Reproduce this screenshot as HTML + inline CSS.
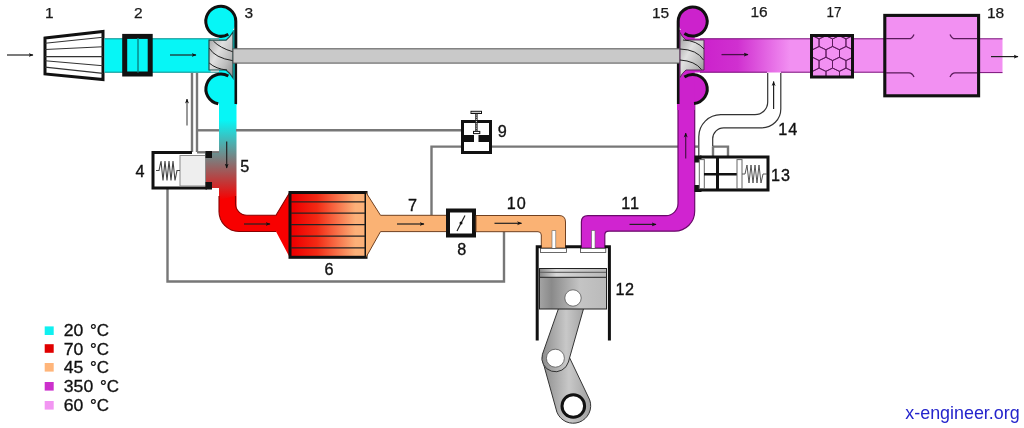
<!DOCTYPE html>
<html><head><meta charset="utf-8">
<style>
html,body{margin:0;padding:0;background:#fff;width:1024px;height:428px;overflow:hidden;}
svg{display:block;will-change:transform;}
text{font-family:"Liberation Sans",sans-serif;}
</style></head><body>
<svg width="1024" height="428" viewBox="0 0 1024 428">
<defs>
  <linearGradient id="gCR" x1="0" y1="120" x2="0" y2="200" gradientUnits="userSpaceOnUse">
    <stop offset="0" stop-color="#06f6f6"/><stop offset="1" stop-color="#f80000"/>
  </linearGradient>
  <linearGradient id="gDPF" x1="290" y1="0" x2="367" y2="0" gradientUnits="userSpaceOnUse">
    <stop offset="0.05" stop-color="#ee0000"/><stop offset="0.35" stop-color="#f22a14"/><stop offset="0.85" stop-color="#fcb078"/><stop offset="1" stop-color="#fcb078"/>
  </linearGradient>
  <linearGradient id="gP16" x1="704" y1="0" x2="800" y2="0" gradientUnits="userSpaceOnUse">
    <stop offset="0" stop-color="#cc22cc"/><stop offset="0.35" stop-color="#d030d0"/><stop offset="0.9" stop-color="#f290f2"/>
  </linearGradient>
  <linearGradient id="gWheel" x1="0" y1="0" x2="1" y2="1">
    <stop offset="0" stop-color="#9a9a9a"/><stop offset="0.4" stop-color="#e0e0e0"/><stop offset="0.7" stop-color="#bdbdbd"/><stop offset="1" stop-color="#8a8a8a"/>
  </linearGradient>
  <linearGradient id="gPiston" x1="0" y1="0" x2="1" y2="0">
    <stop offset="0" stop-color="#a4a4a4"/><stop offset="0.18" stop-color="#8a8a8a"/><stop offset="0.6" stop-color="#c4c4c4"/><stop offset="1" stop-color="#bababa"/>
  </linearGradient>
  <linearGradient id="gRing" x1="0" y1="0" x2="1" y2="0">
    <stop offset="0" stop-color="#8a8a8a"/><stop offset="0.25" stop-color="#d8d8d8"/><stop offset="1" stop-color="#b8b8b8"/>
  </linearGradient>
  <linearGradient id="gRod" x1="0" y1="0" x2="1" y2="0">
    <stop offset="0" stop-color="#8c8c8c"/><stop offset="0.55" stop-color="#c8c8c8"/><stop offset="1" stop-color="#a0a0a0"/>
  </linearGradient>
  <marker id="ah" viewBox="0 0 10 10" refX="9" refY="5" markerWidth="5" markerHeight="5" orient="auto" markerUnits="userSpaceOnUse">
    <path d="M0,1 L10,5 L0,9 L3,5 Z" fill="#111"/>
  </marker>
  <clipPath id="c17"><rect x="811.5" y="35.5" width="41" height="41"/></clipPath>
</defs>

<!-- ===== intake arrow & air filter 1 ===== -->
<line x1="7" y1="55" x2="33" y2="55" stroke="#222" stroke-width="1.2" marker-end="url(#ah)"/>
<path d="M45,38 L103,31.5 L103,79.5 L45,74 Z" fill="#fff" stroke="#111" stroke-width="3" stroke-linejoin="miter"/>
<g stroke="#333" stroke-width="1.1">
  <line x1="45" y1="43.2" x2="103" y2="37.3"/>
  <line x1="45" y1="49.5" x2="103" y2="46.7"/>
  <line x1="45" y1="56.6" x2="103" y2="56.6"/>
  <line x1="45" y1="60.8" x2="103" y2="65.7"/>
  <line x1="45" y1="67.1" x2="103" y2="73.4"/>
</g>

<!-- cyan intake pipe -->
<rect x="104.5" y="38.5" width="106" height="34" fill="#06f6f6"/>
<line x1="104.5" y1="38.8" x2="226" y2="38.8" stroke="#148c8c" stroke-width="1"/>
<line x1="104.5" y1="72.2" x2="226" y2="72.2" stroke="#148c8c" stroke-width="1"/>
<!-- box 2 -->
<rect x="124.7" y="36.4" width="25.5" height="37.6" fill="#06f6f6" stroke="#111" stroke-width="5"/>
<line x1="138" y1="38" x2="138" y2="72.5" stroke="#0a8a8a" stroke-width="1.5"/>
<line x1="170" y1="55" x2="196" y2="55" stroke="#222" stroke-width="1.2" marker-end="url(#ah)"/>

<!-- ===== compressor 3 ===== -->
<rect x="219" y="30" width="18" height="75" fill="#06f6f6"/>
<circle cx="220.8" cy="21.3" r="15" fill="#06f6f6"/>
<circle cx="220.8" cy="89" r="15" fill="#06f6f6"/>
<rect x="219" y="89" width="17.5" height="122" fill="url(#gCR)"/>
<path d="M235.8,48.7 V21.3 A15,15 0 1 0 228.3,34.3" fill="none" stroke="#111" stroke-width="3"/>
<path d="M228.3,76 A15,15 0 1 0 218.2,103.8" fill="none" stroke="#111" stroke-width="3"/>
<line x1="235.8" y1="62.5" x2="235.8" y2="104" stroke="#111" stroke-width="2.6"/>
<!-- wheel -->
<path d="M209,40.2 L226,40.2 Q230,37 233,32 L233,78 Q230,73 226,70 L209,70 Z" fill="url(#gWheel)" stroke="#1a4a4a" stroke-width="1.2"/>
<g fill="none" stroke="#222" stroke-width="1">
  <path d="M213.4,41.1 Q220,48 233,51.8"/>
  <path d="M209.2,48.1 Q215,58 233,60.7"/>
  <path d="M209.2,63 Q216,69 227,70"/>
</g>

<!-- ===== control lines ===== -->
<g stroke="#777" stroke-width="2.4" fill="none">
  <line x1="192" y1="73" x2="192" y2="152"/>
  <line x1="197" y1="73" x2="197" y2="152"/>
  <line x1="197" y1="130.3" x2="219" y2="130.3"/>
  <line x1="236" y1="130.3" x2="461" y2="130.3"/>
  <line x1="197" y1="152.3" x2="219" y2="152.3"/>
  <polyline points="431.5,215 431.5,146.6 461,146.6"/>
  <line x1="492" y1="146.6" x2="678" y2="146.6"/>
  <polyline points="713,146.6 728,146.6 728,156"/>
  <line x1="695" y1="146.6" x2="698" y2="146.6"/>
  <line x1="713" y1="146.6" x2="713" y2="156"/>
  <polyline points="167.5,188 167.5,281.5 504,281.5 504,231.5"/>
</g>
<line x1="187" y1="125.5" x2="187" y2="99" stroke="#555" stroke-width="1.2" marker-end="url(#ah)"/>

<!-- ===== wastegate actuator 4 ===== -->
<rect x="205" y="153" width="14.5" height="35" fill="url(#gCR)"/>
<polyline points="192,152.5 153,152.5 153,188 207,188" fill="none" stroke="#111" stroke-width="3"/>
<rect x="180" y="155.5" width="25.5" height="30.5" fill="#eeeeee" stroke="#8a8a8a" stroke-width="1"/>
<rect x="205.5" y="151" width="6.5" height="7" fill="#111"/>
<rect x="205.5" y="182" width="6.5" height="7.5" fill="#111"/>
<polyline points="156,170.5 159,170.5 161,161 163,180.5 165,161 167,180.5 169,161 171,180.5 173,161 175,180.5 177,170.5 180,170.5" fill="none" stroke="#444" stroke-width="1.1"/>
<line x1="226.7" y1="141.5" x2="226.7" y2="168" stroke="#222" stroke-width="1.2" marker-end="url(#ah)"/>

<!-- ===== pipe 5 bend & DPF 6 ===== -->
<path d="M219,200 V211 A20,20 0 0 0 239,231.5 H276 L290,258 V192 L276,215.2 H247 A11.5,11.5 0 0 1 235.5,203.7 V196 Z" fill="#f80000"/>
<path d="M219,196 V211 A20,20 0 0 0 239,231.5 H276 M290,192 L276,215.2 H247 A11.5,11.5 0 0 1 235.5,203.7 V196" fill="none" stroke="#800" stroke-width="1.1"/>
<rect x="290" y="192.5" width="76" height="64.8" fill="url(#gDPF)" stroke="#111" stroke-width="3"/>
<g stroke="#222" stroke-width="1.25">
  <line x1="291" y1="201.8" x2="365" y2="201.8"/>
  <line x1="291" y1="213.2" x2="365" y2="213.2"/>
  <line x1="291" y1="224.7" x2="365" y2="224.7"/>
  <line x1="291" y1="236.2" x2="365" y2="236.2"/>
  <line x1="291" y1="247.8" x2="365" y2="247.8"/>
</g>
<line x1="244" y1="224" x2="270" y2="224" stroke="#222" stroke-width="1.2" marker-end="url(#ah)"/>
<!-- outlet cone + pipe 7 -->
<path d="M366,192.5 L380.5,215.3 H446 V231.6 H380.5 L366,257.3 Z" fill="#fab274"/>
<path d="M366,192.5 L380.5,215.3 H446 M446,231.6 H380.5 L366,257.3" fill="none" stroke="#704020" stroke-width="1"/>
<line x1="397" y1="224" x2="424" y2="224" stroke="#222" stroke-width="1.2" marker-end="url(#ah)"/>

<!-- throttle 8 -->
<rect x="448" y="210.5" width="26" height="25" fill="#fff" stroke="#111" stroke-width="4"/>
<line x1="457" y1="231" x2="465" y2="215.5" stroke="#222" stroke-width="1.2"/>
<circle cx="461" cy="223" r="1.5" fill="#111"/>

<!-- pipe 10 -->
<path d="M476,215.5 H559 Q565.5,215.5 565.5,222 V248 H541.3 V235 Q541.3,231.7 538,231.7 H476 Z" fill="#fab274" stroke="#704020" stroke-width="1"/>
<line x1="494.5" y1="223.3" x2="521.5" y2="223.3" stroke="#222" stroke-width="1.2" marker-end="url(#ah)"/>

<!-- pipe 11 & purple vertical -->
<path d="M581.4,248 V222 Q581.4,215.6 588,215.6 H666 A12,12 0 0 0 678,203.6 V98 H694.7 V211 A20,20 0 0 1 674.7,231.2 H609 Q604.8,231.2 604.8,235 V248 Z" fill="#d024d0" stroke="#6a0a6a" stroke-width="1.2"/>
<line x1="629.5" y1="224.4" x2="656" y2="224.4" stroke="#222" stroke-width="1.2" marker-end="url(#ah)"/>

<!-- ===== engine 12 ===== -->
<path d="M538.5,248.3 H608 V340.5 H538.5 Z" fill="#fff"/>
<path d="M537.2,340.5 V246.8 H541.5 M565.3,246.8 H581.4 M604.8,246.8 H609.4 V340.5" fill="none" stroke="#111" stroke-width="3"/>
<rect x="552" y="230.7" width="3.8" height="18" fill="#fff" stroke="#666" stroke-width="0.6"/>
<rect x="591.6" y="230.7" width="3.4" height="18" fill="#fff" stroke="#666" stroke-width="0.6"/>
<rect x="540.5" y="248.4" width="26" height="4" fill="#fff" stroke="#444" stroke-width="0.8"/>
<rect x="580.5" y="248.4" width="25.3" height="4" fill="#fff" stroke="#444" stroke-width="0.8"/>
<!-- crank web -->
<path d="M567.6,353.6 L589.7,399.9 A17.5,17.5 0 0 1 556.9,412.1 L543.2,362.8 A13,13 0 0 1 567.6,353.6 Z" fill="url(#gRod)" stroke="#333" stroke-width="1"/>
<circle cx="573.3" cy="406" r="11.3" fill="#fff" stroke="#111" stroke-width="3"/>
<!-- connecting rod -->
<path d="M561.5,300 L586,300 L568.4,362 A13.5,13.5 0 0 1 542.4,354.4 Z" fill="url(#gRod)" stroke="#333" stroke-width="1"/>
<circle cx="555.4" cy="358.2" r="9" fill="#fff" stroke="#555" stroke-width="0.8"/>
<!-- piston -->
<rect x="539.5" y="268.5" width="67" height="40.5" fill="url(#gPiston)" stroke="#222" stroke-width="1"/>
<rect x="539.5" y="268.5" width="67" height="8.8" fill="url(#gRing)" stroke="#222" stroke-width="1"/>
<line x1="540" y1="272.3" x2="606" y2="272.3" stroke="#6a6a6a" stroke-width="1.3"/>
<circle cx="573" cy="298" r="8.2" fill="#fff" stroke="#555" stroke-width="0.8"/>

<!-- ===== valve 9 ===== -->
<rect x="462.5" y="121.5" width="28" height="31" fill="#fff" stroke="#111" stroke-width="3"/>
<rect x="461" y="135" width="13" height="7" fill="#111"/>
<rect x="478.5" y="135" width="13.5" height="7" fill="#111"/>
<rect x="471" y="111.3" width="10.5" height="2.2" fill="#fff" stroke="#111" stroke-width="1"/>
<line x1="472.5" y1="112.4" x2="480" y2="112.4" stroke="#666" stroke-width="0.8" stroke-dasharray="1,1"/>
<rect x="475.2" y="113.5" width="2.4" height="17.6" fill="#222"/>
<line x1="476.4" y1="114.5" x2="476.4" y2="130.5" stroke="#fff" stroke-width="0.9" stroke-dasharray="1,1.2"/>
<rect x="473.5" y="131.4" width="6.3" height="2.2" fill="#fff" stroke="#111" stroke-width="1"/>

<!-- ===== turbine 15 ===== -->
<circle cx="692.7" cy="21.5" r="14.5" fill="#cc22cc"/>
<circle cx="692.7" cy="89" r="14.5" fill="#cc22cc"/>
<rect x="677" y="30" width="17.7" height="80" fill="#cc22cc"/>
<path d="M678.2,48.7 V21.5 A14.5,14.5 0 1 1 684.4,33.4" fill="none" stroke="#111" stroke-width="3"/>
<path d="M684.4,77.1 A14.5,14.5 0 1 1 694,103.4" fill="none" stroke="#111" stroke-width="3"/>
<line x1="678.2" y1="62.5" x2="678.2" y2="104" stroke="#111" stroke-width="2.6"/>
<!-- shaft -->
<rect x="233" y="48.8" width="447" height="14.3" fill="#c9c9c9" stroke="#555" stroke-width="1"/>
<!-- pipe 16 -->
<rect x="686" y="38.5" width="125" height="34" fill="url(#gP16)"/>
<line x1="700" y1="38.8" x2="811" y2="38.8" stroke="#7a147a" stroke-width="1"/>
<line x1="700" y1="72.2" x2="767" y2="72.2" stroke="#7a147a" stroke-width="1"/>
<line x1="781" y1="72.2" x2="811" y2="72.2" stroke="#7a147a" stroke-width="1"/>
<path d="M680,32.5 Q682,37 686,40 L704,40 L704,70 L686,70 Q682,73 680,77.5 Z" fill="url(#gWheel)" stroke="#5a2a5a" stroke-width="1"/>
<g fill="none" stroke="#222" stroke-width="1">
  <path d="M683,40 Q697,40.5 704,49"/>
  <path d="M680,49 Q697,49.5 703.5,60"/>
  <path d="M680,60 Q695,61 701.5,69.5"/>
</g>
<line x1="721.5" y1="54.6" x2="748" y2="54.6" stroke="#4a104a" stroke-width="1.3" marker-end="url(#ah)"/>

<!-- bypass tube 14 -->
<g fill="none" stroke="#333" stroke-width="1.2">
  <path d="M698.8,158 V136.7 A22,22 0 0 1 720.8,114.7 H755 A12.7,12.7 0 0 0 767.7,102 V73"/>
  <path d="M712.7,146.6 V139 A11,11 0 0 1 723.7,127.8 H762 A18.8,18.8 0 0 0 780.8,109 V73"/>
</g>
<line x1="773.6" y1="109" x2="773.6" y2="81.6" stroke="#222" stroke-width="1.2" marker-end="url(#ah)"/>
<line x1="685.7" y1="158.4" x2="685.7" y2="133" stroke="#4a104a" stroke-width="1.2" marker-end="url(#ah)"/>

<!-- actuator 13 -->
<g stroke="#111" stroke-width="3" fill="none">
  <polyline points="700,157 768,157 768,190 700,190"/>
  <line x1="717.5" y1="157" x2="717.5" y2="190"/>
</g>
<rect x="694.5" y="155.5" width="7" height="7" fill="#111"/>
<rect x="694.5" y="185" width="7" height="7" fill="#111"/>
<rect x="699.3" y="159.6" width="5" height="29" fill="#fff" stroke="#666" stroke-width="1"/>
<line x1="704" y1="174.3" x2="737" y2="174.3" stroke="#111" stroke-width="2.5"/>
<rect x="737" y="159.6" width="5" height="29" fill="#fff" stroke="#666" stroke-width="1"/>
<polyline points="742,174 745,174 747,165 749,183 751,165 753,183 755,165 757,183 759,165 761,183 763,174 767,174" fill="none" stroke="#555" stroke-width="1"/>

<!-- catalyst 17 -->
<rect x="852" y="38.5" width="32" height="34" fill="#f290f2"/>
<line x1="852" y1="38.8" x2="884" y2="38.8" stroke="#7a147a" stroke-width="1"/>
<line x1="852" y1="72.2" x2="884" y2="72.2" stroke="#7a147a" stroke-width="1"/>
<rect x="811.5" y="35.5" width="41" height="41.5" fill="#f290f2"/>
<path clip-path="url(#c17)" d="M805.7,24.9 L812.5,28.2 L812.5,35.6 L805.7,38.9 L799.0,35.6 L799.0,28.2ZM819.2,24.9 L826.0,28.2 L826.0,35.6 L819.2,38.9 L812.5,35.6 L812.5,28.2ZM832.7,24.9 L839.5,28.2 L839.5,35.6 L832.7,38.9 L826.0,35.6 L826.0,28.2ZM846.2,24.9 L853.0,28.2 L853.0,35.6 L846.2,38.9 L839.5,35.6 L839.5,28.2ZM859.7,24.9 L866.5,28.2 L866.5,35.6 L859.7,38.9 L853.0,35.6 L853.0,28.2ZM812.4,35.7 L819.1,39.0 L819.1,46.4 L812.4,49.7 L805.6,46.4 L805.6,39.0ZM825.8,35.7 L832.5,39.0 L832.5,46.4 L825.8,49.7 L819.0,46.4 L819.0,39.0ZM839.2,35.7 L846.0,39.0 L846.0,46.4 L839.2,49.7 L832.5,46.4 L832.5,39.0ZM852.6,35.7 L859.4,39.0 L859.4,46.4 L852.6,49.7 L845.9,46.4 L845.9,39.0ZM805.7,46.5 L812.5,49.8 L812.5,57.2 L805.7,60.5 L799.0,57.2 L799.0,49.8ZM819.2,46.5 L826.0,49.8 L826.0,57.2 L819.2,60.5 L812.5,57.2 L812.5,49.8ZM832.7,46.5 L839.5,49.8 L839.5,57.2 L832.7,60.5 L826.0,57.2 L826.0,49.8ZM846.2,46.5 L853.0,49.8 L853.0,57.2 L846.2,60.5 L839.5,57.2 L839.5,49.8ZM859.7,46.5 L866.5,49.8 L866.5,57.2 L859.7,60.5 L853.0,57.2 L853.0,49.8ZM812.4,57.3 L819.1,60.6 L819.1,68.0 L812.4,71.3 L805.6,68.0 L805.6,60.6ZM825.8,57.3 L832.5,60.6 L832.5,68.0 L825.8,71.3 L819.0,68.0 L819.0,60.6ZM839.2,57.3 L846.0,60.6 L846.0,68.0 L839.2,71.3 L832.5,68.0 L832.5,60.6ZM852.6,57.3 L859.4,60.6 L859.4,68.0 L852.6,71.3 L845.9,68.0 L845.9,60.6ZM805.7,68.1 L812.5,71.4 L812.5,78.8 L805.7,82.1 L799.0,78.8 L799.0,71.4ZM819.2,68.1 L826.0,71.4 L826.0,78.8 L819.2,82.1 L812.5,78.8 L812.5,71.4ZM832.7,68.1 L839.5,71.4 L839.5,78.8 L832.7,82.1 L826.0,78.8 L826.0,71.4ZM846.2,68.1 L853.0,71.4 L853.0,78.8 L846.2,82.1 L839.5,78.8 L839.5,71.4ZM859.7,68.1 L866.5,71.4 L866.5,78.8 L859.7,82.1 L853.0,78.8 L853.0,71.4ZM812.4,78.9 L819.1,82.2 L819.1,89.6 L812.4,92.9 L805.6,89.6 L805.6,82.2ZM825.8,78.9 L832.5,82.2 L832.5,89.6 L825.8,92.9 L819.0,89.6 L819.0,82.2ZM839.2,78.9 L846.0,82.2 L846.0,89.6 L839.2,92.9 L832.5,89.6 L832.5,82.2ZM852.6,78.9 L859.4,82.2 L859.4,89.6 L852.6,92.9 L845.9,89.6 L845.9,82.2Z" fill="none" stroke="#5a1a5a" stroke-width="0.9"/>
<rect x="811.5" y="35.5" width="41" height="41.5" fill="none" stroke="#111" stroke-width="3"/>
<!-- muffler 18 -->
<rect x="980" y="38.6" width="22.5" height="34.2" fill="#f290f2"/>
<line x1="980" y1="38.8" x2="1002.5" y2="38.8" stroke="#7a147a" stroke-width="1"/>
<line x1="980" y1="72.6" x2="1002.5" y2="72.6" stroke="#7a147a" stroke-width="1"/>
<rect x="884.8" y="15.4" width="93.8" height="80.4" fill="#f290f2" stroke="#111" stroke-width="3.1"/>
<g fill="none" stroke="#5a1a5a" stroke-width="1.3">
  <path d="M886,38.7 H909 Q912,38.7 914,34.4"/>
  <path d="M886,72.9 H909 Q912,72.9 914,77"/>
  <path d="M977,38.7 H955 Q952,38.7 950,34.4"/>
  <path d="M977,72.9 H955 Q952,72.9 950,77"/>
</g>
<line x1="991" y1="56.6" x2="1018" y2="56.6" stroke="#222" stroke-width="1.2" marker-end="url(#ah)"/>

<!-- ===== labels ===== -->
<g font-size="15.5" fill="#1a1a1a" stroke="#1a1a1a" stroke-width="0.25">
  <text x="45" y="18">1</text>
  <text x="134" y="18">2</text>
  <text x="244.5" y="17.5">3</text>
  <text x="652" y="17.5">15</text>
  <text x="750.5" y="17.3">16</text>
  <text x="826.5" y="17.3" textLength="15" lengthAdjust="spacingAndGlyphs">17</text>
  <text x="987" y="18">18</text>
</g>
<g font-size="16.2" fill="#111" stroke="#111" stroke-width="0.35">
  <text x="135.5" y="176.5">4</text>
  <text x="240.3" y="171.5">5</text>
  <text x="324.5" y="274.5">6</text>
  <text x="408" y="210.5">7</text>
  <text x="457.3" y="254.5">8</text>
  <text x="497.7" y="137">9</text>
  <text x="506.8" y="208.7" letter-spacing="1">10</text>
  <text x="621.3" y="208.7" letter-spacing="1">11</text>
  <text x="615.5" y="295" letter-spacing="0.5">12</text>
  <text x="771" y="180.5" letter-spacing="1">13</text>
  <text x="778.3" y="134.6" letter-spacing="1">14</text>
</g>

<!-- legend -->
<g>
  <rect x="44.7" y="326.4" width="9" height="8.6" fill="#10f0f0"/>
  <rect x="44.7" y="344.2" width="9" height="8.6" fill="#e00000"/>
  <rect x="44.7" y="363" width="9" height="8.6" fill="#ffb57a"/>
  <rect x="44.7" y="382" width="9" height="8.6" fill="#cc30cc"/>
  <rect x="44.7" y="401" width="9" height="8.6" fill="#f296f2"/>
</g>
<g font-size="16.4" fill="#111" stroke="#111" stroke-width="0.3">
  <text x="63.8" y="335.9" textLength="19.6" lengthAdjust="spacingAndGlyphs">20</text><text x="90" y="335.9" textLength="19" lengthAdjust="spacingAndGlyphs">°C</text>
  <text x="63.8" y="354.6" textLength="19.6" lengthAdjust="spacingAndGlyphs">70</text><text x="90" y="354.6" textLength="19" lengthAdjust="spacingAndGlyphs">°C</text>
  <text x="63.8" y="373.3" textLength="19.6" lengthAdjust="spacingAndGlyphs">45</text><text x="90" y="373.3" textLength="19" lengthAdjust="spacingAndGlyphs">°C</text>
  <text x="63.8" y="392" textLength="29.4" lengthAdjust="spacingAndGlyphs">350</text><text x="100" y="392" textLength="19" lengthAdjust="spacingAndGlyphs">°C</text>
  <text x="63.8" y="410.7" textLength="19.6" lengthAdjust="spacingAndGlyphs">60</text><text x="90" y="410.7" textLength="19" lengthAdjust="spacingAndGlyphs">°C</text>
</g>
<text x="905.3" y="418.7" font-size="17.9" fill="#2424cc">x-engineer.org</text>
</svg>
</body></html>
